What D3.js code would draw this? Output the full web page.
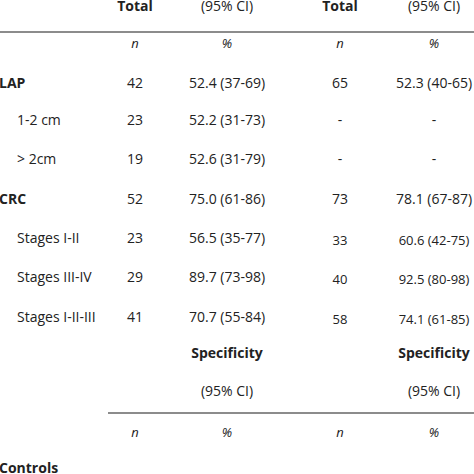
<!DOCTYPE html>
<html><head><meta charset="utf-8">
<script src="https://cdn.jsdelivr.net/npm/d3@7"></script>
<style>body{margin:0;background:#fff}</style>
</head><body><div id="root"></div>
<script>
const width = 474, height = 474;

// rows: label, bold, n1, pct1, n2, pct2
const rowLabels = ["LAP", "1-2 cm", "> 2cm", "CRC", "Stages I-II", "Stages III-IV", "Stages I-II-III"];
const rowBold = [true, false, false, true, false, false, false];
const n1 = ["42", "23", "19", "52", "23", "29", "41"];
const pct1 = ["52.4 (37-69)", "52.2 (31-73)", "52.6 (31-79)", "75.0 (61-86)", "56.5 (35-77)", "89.7 (73-98)", "70.7 (55-84)"];
const n2 = ["65", "-", "-", "73", "33", "40", "58"];
const pct2 = ["52.3 (40-65)", "-", "-", "78.1 (67-87)", "60.6 (42-75)", "92.5 (80-98)", "74.1 (61-85)"];
const rowY = [83, 120, 159, 199, 238, 277, 317];

const colX = [135, 227, 340, 434];

const svg = d3.select("#root").append("svg")
  .attr("width", width).attr("height", height)
  .style("font-family", "'Open Sans', sans-serif")
  .attr("fill", "#222");

const txt = (x, y, s, opts = {}) => svg.append("text")
  .attr("x", x).attr("y", y).attr("dy", "0.35em")
  .attr("text-anchor", opts.anchor || "middle")
  .attr("font-size", opts.size || 14)
  .attr("font-weight", opts.bold ? "bold" : null)
  .attr("font-style", opts.italic ? "italic" : null)
  .text(s);

// header (partly cut off at top, as in the reference)
txt(colX[0], 6, "Total", {bold: true});
txt(colX[1], 6, "(95% CI)");
txt(colX[2], 6, "Total", {bold: true});
txt(colX[3], 6, "(95% CI)");

svg.append("line").attr("x1", 0).attr("x2", width).attr("y1", 32).attr("y2", 32)
  .attr("stroke", "#666").attr("stroke-width", 1.5);

const unitRow = y => {
  txt(colX[0], y, "n", {italic: true, size: 13});
  txt(colX[1], y, "%", {italic: true, size: 13});
  txt(colX[2], y, "n", {italic: true, size: 13});
  txt(colX[3], y, "%", {italic: true, size: 13});
};
unitRow(43);

rowLabels.forEach((l, i) => {
  const y = rowY[i];
  const small = i >= 4;
  txt(rowBold[i] ? -1 : 17, y, l, {anchor: "start", bold: rowBold[i]});
  txt(colX[0], y, n1[i]);
  txt(colX[1], y, pct1[i]);
  txt(colX[2], y + (small ? 2 : 0), n2[i], {size: small ? 13 : 14});
  txt(colX[3], y + (small ? 2 : 0), pct2[i], {size: small ? 13 : 14});
});

txt(colX[1], 353, "Specificity", {bold: true});
txt(colX[3], 353, "Specificity", {bold: true});
txt(colX[1], 391, "(95% CI)");
txt(colX[3], 391, "(95% CI)");

svg.append("line").attr("x1", 108).attr("x2", width).attr("y1", 413).attr("y2", 413)
  .attr("stroke", "#666").attr("stroke-width", 1.5);
unitRow(432);

txt(-1, 468, "Controls", {anchor: "start", bold: true});
</script></body></html>
